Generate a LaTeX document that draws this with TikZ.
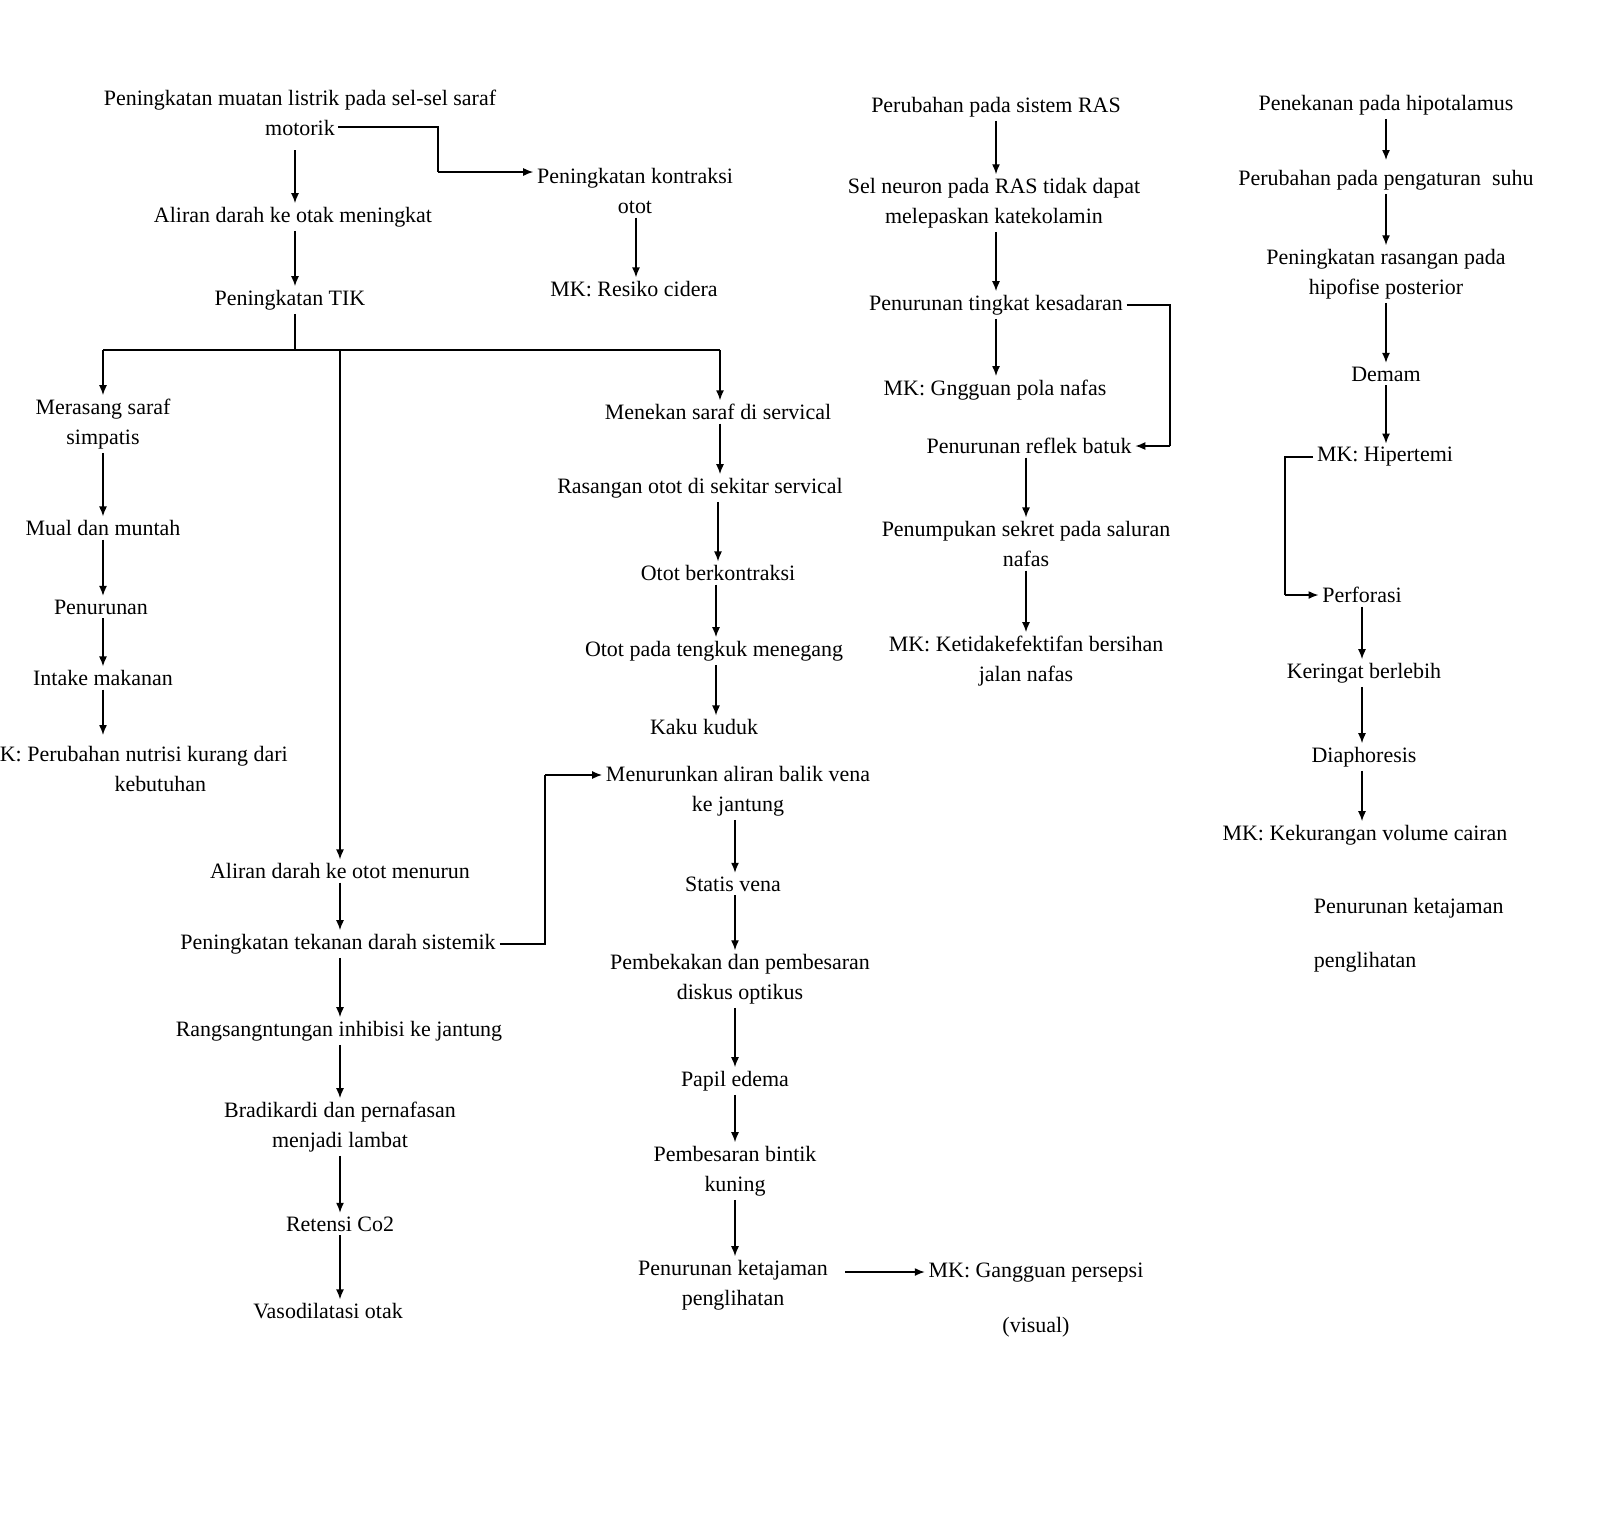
\documentclass[tikz,border=0pt]{standalone}
\usepackage{fontspec}
\setmainfont{Liberation Serif}
\usetikzlibrary{arrows.meta}
\begin{document}
\begin{tikzpicture}[x=0.02cm,y=-0.02cm,
  every node/.style={font=\fontsize{12.5}{17}\selectfont, align=center, inner sep=2pt},
  arr/.style={-{Latex[length=2mm,width=1.6mm]}, line width=0.8pt},
  ln/.style={line width=0.8pt}]
\useasboundingbox (0,0) rectangle (1600,1519);
% column 1
\node (a1) at (300,113) {Peningkatan muatan listrik pada sel-sel saraf\\motorik};
\node (a2) at (293,217) {Aliran darah ke otak meningkat};
\node (a3) at (290,300) {Peningkatan TIK};
\node (b1) at (635,191) {Peningkatan kontraksi\\otot};
\node (b2) at (634,289) {MK: Resiko cidera};
\draw[arr] (295,150) -- (a2.north -| 295,0);
\draw[arr] (a2.south -| 295,0) -- (a3.north -| 295,0);
\draw[ln] (338,127) -- (438,127) -- (438,172);
\draw[arr] (438,172) -- (b1.west |- 0,172);
\draw[arr] (b1.south -| 636,0) -- (b2.north -| 636,0);
\coordinate (t) at (295,350);
\draw[ln] (a3.south -| 295,0) -- (t);
\draw[ln] (103,350) -- (720,350);
\node (c1) at (103,424) {Merasang saraf\\simpatis};
\node (c2) at (103,528) {Mual dan muntah};
\node (c3) at (101,607) {Penurunan};
\node (c4) at (103,678) {Intake makanan};
\node[anchor=west] (c5) at (-4,769) {K: Perubahan nutrisi kurang dari\\\hspace*{1.5em}kebutuhan};
\draw[arr] (103,350) -- (c1.north -| 103,0);
\draw[arr] (c1.south -| 103,0) -- (c2.north -| 103,0);
\draw[arr] (c2.south -| 103,0) -- (c3.north -| 103,0);
\draw[arr] (c3.south -| 103,0) -- (c4.north -| 103,0);
\draw[arr] (c4.south -| 103,0) -- (103,735);
\node (d1) at (718,412) {Menekan saraf di servical};
\node (d2) at (700,488) {Rasangan otot di sekitar servical};
\node (d3) at (718,573) {Otot berkontraksi};
\node (d4) at (714,651) {Otot pada tengkuk menegang};
\node (d5) at (704,727) {Kaku kuduk};
\draw[arr] (720,350) -- (d1.north -| 720,0);
\draw[arr] (d1.south -| 720,0) -- (d2.north -| 720,0);
\draw[arr] (d2.south -| 718,0) -- (d3.north -| 718,0);
\draw[arr] (d3.south -| 716,0) -- (d4.north -| 716,0);
\draw[arr] (d4.south -| 716,0) -- (d5.north -| 716,0);
\node (e1) at (340,871) {Aliran darah ke otot menurun};
\node (e2) at (338,944) {Peningkatan tekanan darah sistemik};
\node (e3) at (339,1031) {Rangsangntungan inhibisi ke jantung};
\node (e4) at (340,1127) {Bradikardi dan pernafasan\\menjadi lambat};
\node (e5) at (340,1224) {Retensi Co2};
\node (e6) at (328,1311) {Vasodilatasi otak};
\draw[arr] (340,350) -- (e1.north -| 340,0);
\draw[arr] (e1.south -| 340,0) -- (e2.north -| 340,0);
\draw[arr] (e2.south -| 340,0) -- (e3.north -| 340,0);
\draw[arr] (e3.south -| 340,0) -- (e4.north -| 340,0);
\draw[arr] (e4.south -| 340,0) -- (e5.north -| 340,0);
\draw[arr] (e5.south -| 340,0) -- (e6.north -| 340,0);
\node (f1) at (738,791) {Menurunkan aliran balik vena\\ke jantung};
\node (f2) at (733,884) {Statis vena};
\node (f3) at (740,979) {Pembekakan dan pembesaran\\diskus optikus};
\node (f4) at (735,1081) {Papil edema};
\node (f5) at (735,1171) {Pembesaran bintik\\kuning};
\node (f6) at (733,1285) {Penurunan ketajaman\\penglihatan};
\node (g) at (1036,1300) {MK: Gangguan persepsi\\[14pt](visual)};
\draw[ln] (e2.east) -- (e2.east -| 545,0) -- (545,775);
\draw[arr] (545,775) -- (f1.west |- 0,775);
\draw[arr] (f1.south -| 735,0) -- (f2.north -| 735,0);
\draw[arr] (f2.south -| 735,0) -- (f3.north -| 735,0);
\draw[arr] (f3.south -| 735,0) -- (f4.north -| 735,0);
\draw[arr] (f4.south -| 735,0) -- (f5.north -| 735,0);
\draw[arr] (f5.south -| 735,0) -- (f6.north -| 735,0);
\draw[arr] (845,1272) -- (g.west |- 0,1272);
% RAS column
\node (h1) at (996,107) {Perubahan pada sistem RAS};
\node (h2) at (994,203) {Sel neuron pada RAS tidak dapat\\melepaskan katekolamin};
\node (h3) at (996,305) {Penurunan tingkat kesadaran};
\node (h4) at (995,390) {MK: Gngguan pola nafas};
\node (h5) at (1029,446) {Penurunan reflek batuk};
\node (h6) at (1026,544) {Penumpukan sekret pada saluran\\nafas};
\node (h7) at (1026,661) {MK: Ketidakefektifan bersihan\\jalan nafas};
\draw[arr] (h1.south -| 996,0) -- (h2.north -| 996,0);
\draw[arr] (h2.south -| 996,0) -- (h3.north -| 996,0);
\draw[arr] (h3.south -| 996,0) -- (h4.north -| 996,0);
\draw[arr] (h5.south -| 1026,0) -- (h6.north -| 1026,0);
\draw[arr] (h6.south -| 1026,0) -- (h7.north -| 1026,0);
\draw[ln] (h3.east) -- (h3.east -| 1170,0) -- (1170,446);
\draw[arr] (1170,446) -- (h5.east);
% right column
\node (i1) at (1386,105) {Penekanan pada hipotalamus};
\node (i2) at (1386,180) {Perubahan pada pengaturan\ \ suhu};
\node (i3) at (1386,274) {Peningkatan rasangan pada\\hipofise posterior};
\node (i4) at (1386,374) {Demam};
\node (i5) at (1385,457) {MK: Hipertemi};
\node (i6) at (1362,595) {Perforasi};
\node (i7) at (1364,673) {Keringat berlebih};
\node (i8) at (1364,757) {Diaphoresis};
\node (i9) at (1365,835) {MK: Kekurangan volume cairan};
\node[anchor=west, align=left] (j) at (1310,935) {Penurunan ketajaman\\[14pt]penglihatan};
\draw[arr] (i1.south -| 1386,0) -- (1386,160);
\draw[arr] (i2.south -| 1386,0) -- (i3.north -| 1386,0);
\draw[arr] (i3.south -| 1386,0) -- (i4.north -| 1386,0);
\draw[arr] (i4.south -| 1386,0) -- (i5.north -| 1386,0);
\draw[ln] (i5.west) -- (i5.west -| 1285,0) -- (1285,595);
\draw[arr] (1285,595) -- (i6.west);
\draw[arr] (i6.south -| 1362,0) -- (i7.north -| 1362,0);
\draw[arr] (i7.south -| 1362,0) -- (i8.north -| 1362,0);
\draw[arr] (i8.south -| 1362,0) -- (i9.north -| 1362,0);
\end{tikzpicture}
\end{document}
